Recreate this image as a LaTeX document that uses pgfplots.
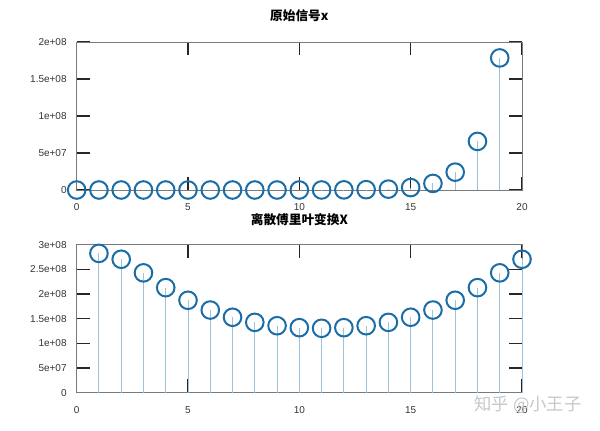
\documentclass[border=0pt]{standalone}
\usepackage{pgfplots}
\pgfplotsset{compat=1.18}
\usepackage{fontspec}
\setmainfont{Liberation Sans}
\newfontfamily\cjk{Noto Sans CJK SC}
\definecolor{circblue}{HTML}{1A6DA6}
\definecolor{stemblue}{HTML}{9EC2DC}
\definecolor{axgray}{HTML}{7A7A7A}
\begin{document}
\begin{tikzpicture}
\path[use as bounding box] (0,0) rectangle (450pt,322.5pt);
\pgfplotsset{
  stemaxis/.style={
    scale only axis, width=334pt, height=111pt, anchor=south west,
    xmin=0, xmax=20, ymin=0,
    xtick={0,5,10,15,20},
    scaled y ticks=false,
    /pgf/number format/assume math mode=true,
    clip=false,
    axis line style={axgray, line width=0.7pt},
    tick style={black!85, line width=0.8pt},
    major tick length=10pt,
    tick align=inside,
    ticklabel style={font=\fontsize{7.5}{9}\selectfont, text=black!80},
    xticklabel style={anchor=center, yshift=-12.75pt},
    yticklabel style={anchor=east, xshift=-4pt},
    title style={font=\cjk\bfseries\fontsize{9.5}{11}\selectfont, at={(0.5,1)}, anchor=center},
  }
}
\begin{axis}[stemaxis, at={(57.5pt,180pt)}, ymax=2e8,
  ytick={0,5e7,1e8,1.5e8,2e8},
  yticklabels={0,5e+07,1e+08,1.5e+08,2e+08},
  title={原始信号x}, title style={yshift=13.5pt}]
\addplot[ycomb, color=stemblue, line width=0.75pt, no marks] table {
x y
0 1
1 2.718
2 7.389
3 20.09
4 54.60
5 148.4
6 403.4
7 1096.6
8 2981.0
9 8103.1
10 22026
11 59874
12 162755
13 442413
14 1202604
15 3269017
16 8886111
17 24154953
18 65659969
19 178482301
};
\addplot[only marks, mark=o, mark size=6.6pt, mark options={draw=circblue, line width=1.5pt}] table {
x y
0 1
1 2.718
2 7.389
3 20.09
4 54.60
5 148.4
6 403.4
7 1096.6
8 2981.0
9 8103.1
10 22026
11 59874
12 162755
13 442413
14 1202604
15 3269017
16 8886111
17 24154953
18 65659969
19 178482301
};
\end{axis}
\begin{axis}[stemaxis, at={(57.5pt,28pt)}, ymax=3e8,
  ytick={0,5e7,1e8,1.5e8,2e8,2.5e8,3e8},
  yticklabels={0,5e+07,1e+08,1.5e+08,2e+08,2.5e+08,3e+08},
  title={离散傅里叶变换X}, title style={yshift=12.75pt}]
\addplot[ycomb, color=stemblue, line width=0.75pt, no marks] table {
x y
1 2.82354e8
2 2.70432e8
3 2.42862e8
4 2.12891e8
5 1.87309e8
6 1.67507e8
7 1.52896e8
8 1.42545e8
9 1.35675e8
10 1.31755e8
11 1.30481e8
12 1.31755e8
13 1.35675e8
14 1.42545e8
15 1.52896e8
16 1.67507e8
17 1.87309e8
18 2.12891e8
19 2.42862e8
20 2.70432e8
};
\addplot[only marks, mark=o, mark size=6.6pt, mark options={draw=circblue, line width=1.5pt}] table {
x y
1 2.82354e8
2 2.70432e8
3 2.42862e8
4 2.12891e8
5 1.87309e8
6 1.67507e8
7 1.52896e8
8 1.42545e8
9 1.35675e8
10 1.31755e8
11 1.30481e8
12 1.31755e8
13 1.35675e8
14 1.42545e8
15 1.52896e8
16 1.67507e8
17 1.87309e8
18 2.12891e8
19 2.42862e8
20 2.70432e8
};
\end{axis}
\node[text=black!22, font=\cjk\fontsize{13}{15}\selectfont] at (396pt,18.75pt) {知乎 @小王子};
\end{tikzpicture}
\end{document}
